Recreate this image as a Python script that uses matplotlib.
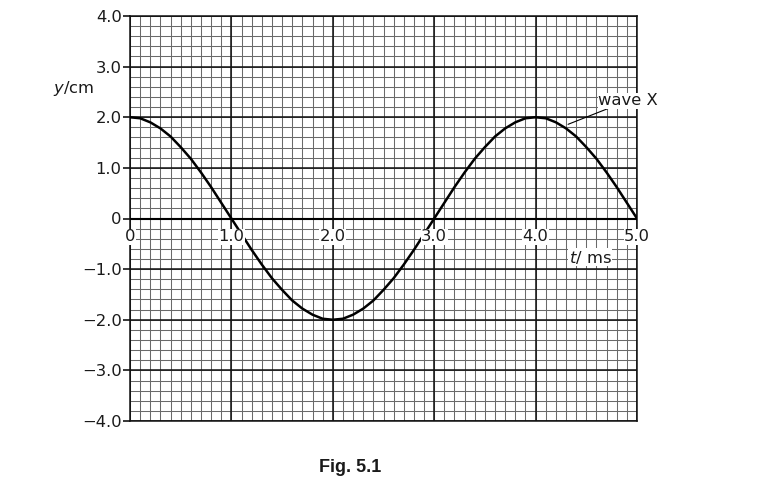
import matplotlib
matplotlib.use("Agg")
import matplotlib.pyplot as plt
import numpy as np

plt.rcParams['font.family'] = ['DejaVu Sans']
plt.rcParams['mathtext.fontset'] = 'dejavusans'

# readings of wave X (t in ms, y in cm)
t_ms = [0.0, 0.1, 0.2, 0.3, 0.4, 0.5, 0.6, 0.7, 0.8, 0.9,
        1.0, 1.1, 1.2, 1.3, 1.4, 1.5, 1.6, 1.7, 1.8, 1.9,
        2.0, 2.1, 2.2, 2.3, 2.4, 2.5, 2.6, 2.7, 2.8, 2.9,
        3.0, 3.1, 3.2, 3.3, 3.4, 3.5, 3.6, 3.7, 3.8, 3.9,
        4.0, 4.1, 4.2, 4.3, 4.4, 4.5, 4.6, 4.7, 4.8, 4.9, 5.0]
y_cm = [2.00, 1.98, 1.90, 1.78, 1.62, 1.41, 1.18, 0.91, 0.62, 0.31,
        0.00, -0.31, -0.62, -0.91, -1.18, -1.41, -1.62, -1.78, -1.90, -1.98,
        -2.00, -1.98, -1.90, -1.78, -1.62, -1.41, -1.18, -0.91, -0.62, -0.31,
        0.00, 0.31, 0.62, 0.91, 1.18, 1.41, 1.62, 1.78, 1.90, 1.98,
        2.00, 1.98, 1.90, 1.78, 1.62, 1.41, 1.18, 0.91, 0.62, 0.31, 0.00]

x_ticks = [0, 1.0, 2.0, 3.0, 4.0, 5.0]
x_tick_labels = ["0", "1.0", "2.0", "3.0", "4.0", "5.0"]
y_ticks = [4.0, 3.0, 2.0, 1.0, 0, -1.0, -2.0, -3.0, -4.0]
y_tick_labels = ["4.0", "3.0", "2.0", "1.0", "0", "\u22121.0", "\u22122.0", "\u22123.0", "\u22124.0"]

FS = 11.8
TXT = '#1a1a1a'

fig = plt.figure(figsize=(7.68, 4.95), dpi=100)
ax = fig.add_axes([130/768, 1-421/495, 507/768, 405/495])
ax.set_xlim(0, 5)
ax.set_ylim(-4, 4)

# graph paper grid
for xv in np.arange(0, 5.001, 0.1):
    ax.axvline(xv, color='#6a6a6a', lw=0.75, zorder=1)
for yv in np.arange(-4, 4.001, 0.2):
    ax.axhline(yv, color='#6a6a6a', lw=0.75, zorder=1)
for xv in x_ticks:
    ax.axvline(xv, color='#111111', lw=1.1, zorder=2)
for yv in y_ticks:
    ax.axhline(yv, color='#111111', lw=1.1, zorder=2)
ax.axhline(0, color='black', lw=1.5, zorder=3)

for s in ax.spines.values():
    s.set_color('#111111')
    s.set_linewidth(1.1)

ax.plot(t_ms, y_cm, color='black', lw=1.8, zorder=5)

ax.set_xticks([])
ax.set_yticks(y_ticks)
ax.set_yticklabels(y_tick_labels, fontsize=FS, color=TXT)
ax.tick_params(axis='y', direction='out', length=5, width=1.1, pad=1)

bb = dict(facecolor='white', edgecolor='none', pad=0.4)
for xv, lab in zip(x_ticks, x_tick_labels):
    ax.text(xv, -0.36, lab, ha='center', va='center', fontsize=FS,
            color=TXT, bbox=bb, zorder=6)

ax.text(4.54, -0.77, r"$t$/ ms", ha='center', va='center', fontsize=FS,
        color=TXT, bbox=bb, zorder=6)

ax.annotate("wave X", xy=(4.32, 1.86), xytext=(4.62, 2.33),
            fontsize=FS, ha='left', va='center', color=TXT,
            bbox=dict(facecolor='white', edgecolor='none', pad=0.4),
            arrowprops=dict(arrowstyle='-', color='black', lw=0.8,
                            shrinkA=0, shrinkB=0), zorder=6,
            annotation_clip=False)

fig.text(74/768, 1-88/495, r"$y$/cm", ha='center', va='center', fontsize=FS,
         color=TXT)
fig.text(350/768, 1-468/495, "Fig. 5.1", ha='center', va='center',
         fontsize=13, fontweight='bold', family='Liberation Sans', color=TXT)

fig.savefig("out.png", dpi=100)
